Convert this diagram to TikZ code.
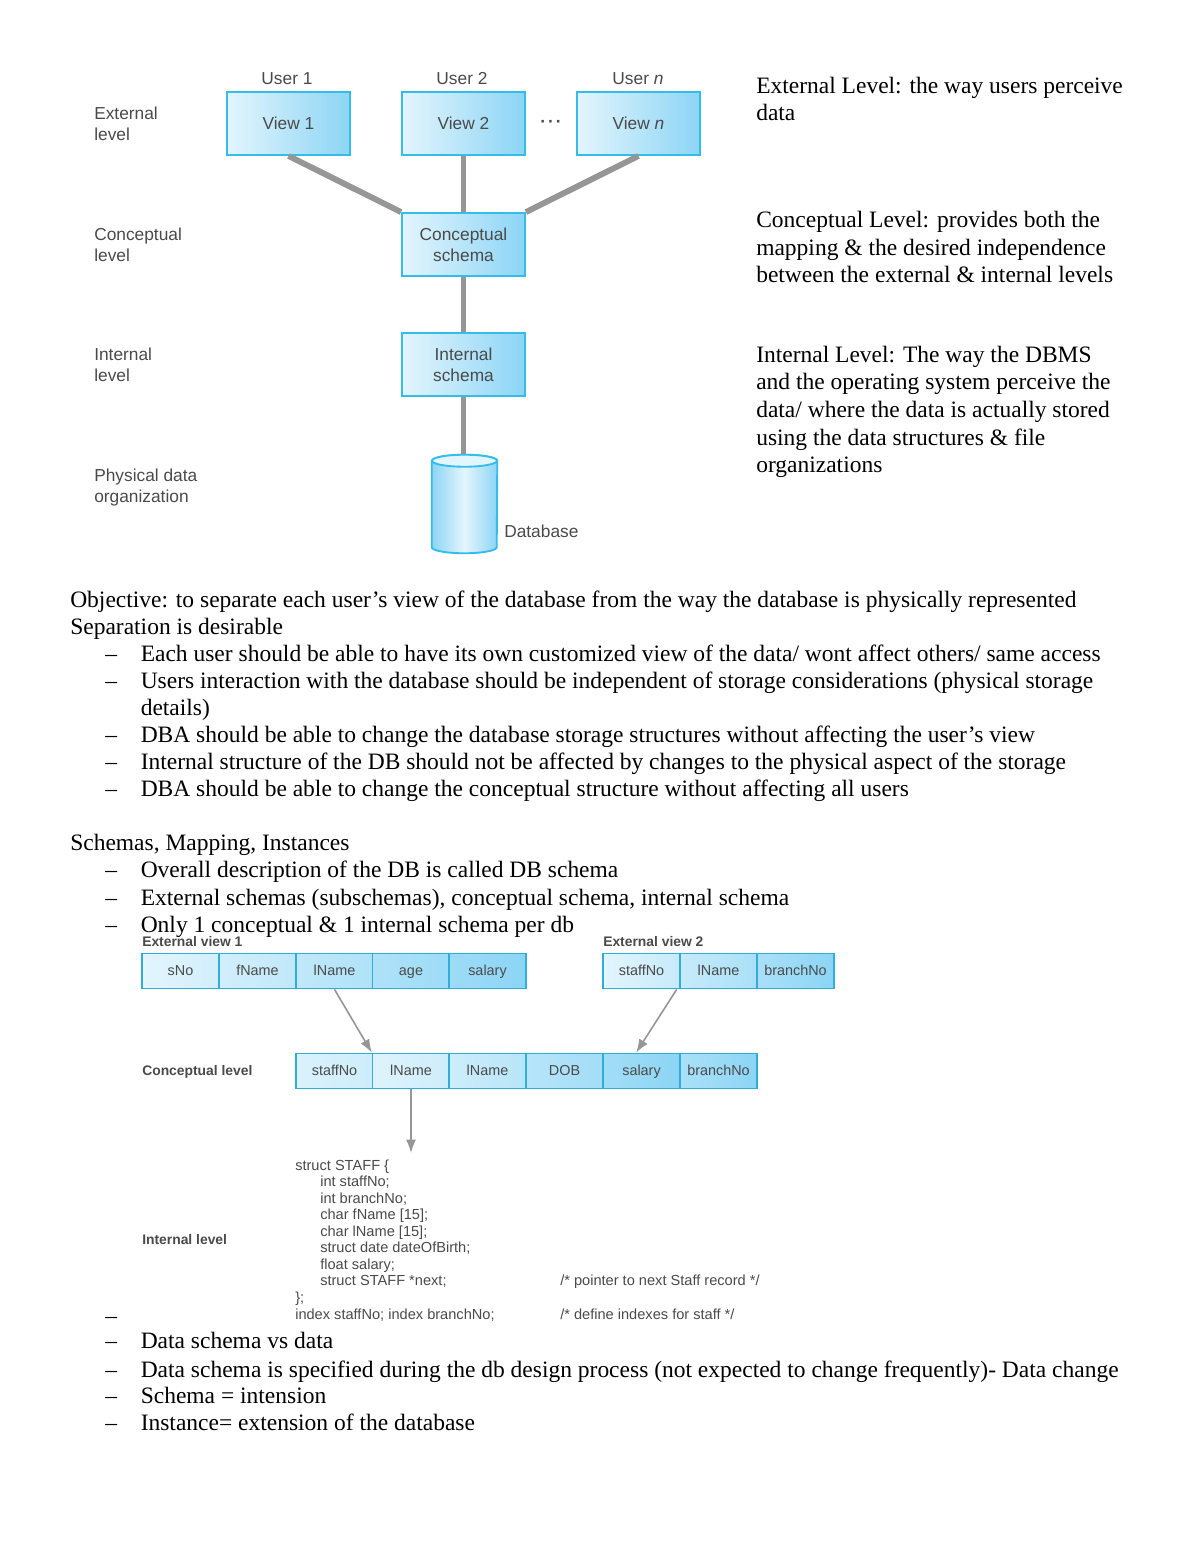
\documentclass[tikz,border=0pt]{standalone}
\usepackage{fontspec}
\setmainfont{Liberation Serif}
\newfontfamily\diagfont{Liberation Sans}
\usetikzlibrary{arrows.meta,calc}
\definecolor{edgeblue}{HTML}{35BDE9}
\definecolor{celledge}{HTML}{2FAEDB}
\definecolor{shadeL}{HTML}{E3F5FD}
\definecolor{shadeR}{HTML}{8CD5F5}
\definecolor{linkgray}{HTML}{969696}
\definecolor{labelgray}{HTML}{4A4A4A}
\tikzset{
  bodytext/.style={anchor=base west,inner sep=0pt,font=\fontsize{17.62}{20}\selectfont,text=black},
  lab/.style={anchor=base west,inner sep=0pt,font=\diagfont\fontsize{13}{15}\selectfont,text=labelgray},
  boxtext/.style={inner sep=0pt,align=center,font=\diagfont\fontsize{13}{15.5}\selectfont,text=labelgray},
  codetext/.style={anchor=base west,inner sep=0pt,font=\diagfont\fontsize{10.95}{12}\selectfont,text=labelgray},
  tabtitle/.style={anchor=base west,inner sep=0pt,font=\diagfont\bfseries\fontsize{10.4}{12}\selectfont,text=labelgray},
  schemabox/.style={rectangle,draw=edgeblue,line width=1.4pt,left color=shadeL,right color=shadeR,
    minimum width=92.25pt,minimum height=47.25pt,boxtext},
  heavy/.style={draw=linkgray,line width=4.4pt},
  thin arrow/.style={draw=linkgray,line width=1.2pt,-{Latex[length=10pt,width=7.5pt]}},
  cellbox/.style={rectangle,draw=celledge,line width=1.1pt,inner sep=0pt,font=\diagfont\fontsize{10.8}{12}\selectfont,text=labelgray,
    minimum width=57.7pt,text height=8pt,text depth=2pt},
  cellA/.style={cellbox,minimum height=26.5pt},
}
\newcommand\tl[4]{\node[bodytext] (#1) at (#2,#3) {#4};}
\newcommand\dashline[2]{\node[bodytext] (#1) at (105,#2) {--};}
\newcommand\tcell[7]{\node[cellA,left color=shadeR!#5!shadeL,right color=shadeR!#6!shadeL] (#1) at (#2,#3) {#4};}
\begin{document}
\begin{tikzpicture}[x=0.75pt,y=-0.75pt]
\useasboundingbox (0,0) rectangle (1200,1553);
% top diagram
\node[schemabox] (v1) at (288.5,123.5) {View 1};
\node[schemabox] (v2) at (463.5,123.5) {View 2};
\node[schemabox] (vn) at (638.5,123.5) {View \textit{n}};
\node[schemabox] (cs) at (463.5,244.5) {Conceptual\\schema};
\node[schemabox] (is) at (463.5,364.5) {Internal\\schema};
\node[boxtext] (u1) at (287,79) {User 1};
\node[boxtext] (u2) at (462,79) {User 2};
\node[boxtext] (un) at (638,79) {User \textit{n}};
\node[boxtext] (dots) at (551,124) {\textbf{·\kern1.5pt·\kern1.5pt·}};
\node[lab] (l1a) at (94,119) {External};
\node[lab] (l1b) at (94,140) {level};
\node[lab] (l2a) at (94,240) {Conceptual};
\node[lab] (l2b) at (94,261) {level};
\node[lab] (l3a) at (94,360) {Internal};
\node[lab] (l3b) at (94,381) {level};
\node[lab] (l4a) at (94,481) {Physical data};
\node[lab] (l4b) at (94,502) {organization};
\node[lab] (dbl) at (504,537) {Database};
\node[minimum width=48.75pt,minimum height=73.5pt,inner sep=0pt] (db) at (464.5,504) {};
\draw[heavy] (v1.south) -- (cs.north west);
\draw[heavy] (v2.south) -- (cs.north);
\draw[heavy] (vn.south) -- (cs.north east);
\draw[heavy] (cs.south) -- (is.north);
\draw[heavy] (is.south) -- (is.south |- db.north);
\path[draw=edgeblue,line width=1.4pt,left color=shadeR,right color=shadeR,middle color=shadeL]
  ([yshift=-4.5pt]db.north west) -- ([yshift=4.5pt]db.south west)
  arc[start angle=180,end angle=360,x radius=24.375pt,y radius=4.5pt]
  -- ([yshift=-4.5pt]db.north east)
  arc[start angle=0,end angle=180,x radius=24.375pt,y radius=4.5pt] -- cycle;
\draw[draw=edgeblue,line width=1.4pt,fill=shadeL] ([yshift=-4.5pt]db.north) ellipse[x radius=24.375pt,y radius=4.5pt];
% right text
\tl{r1}{756}{93}{External Level: the way users perceive}
\tl{r2}{756}{120}{data}
\tl{r3}{756}{227}{Conceptual Level: provides both the}
\tl{r4}{756}{255}{mapping \& the desired independence}
\tl{r5}{756}{282}{between the external \& internal levels}
\tl{r6}{756}{362}{Internal Level: The way the DBMS}
\tl{r7}{756}{389}{and the operating system perceive the}
\tl{r8}{756}{417}{data/ where the data is actually stored}
\tl{r9}{756}{445}{using the data structures \& file}
\tl{r10}{756}{472}{organizations}
% body
\tl{b1}{70}{607}{Objective: to separate each user’s view of the database from the way the database is physically represented}
\tl{b2}{70}{634}{Separation is desirable}
\dashline{d1}{661}\tl{b3}{140.5}{661}{Each user should be able to have its own customized view of the data/ wont affect others/ same access}
\dashline{d2}{688}\tl{b4}{140.5}{688}{Users interaction with the database should be independent of storage considerations (physical storage}
\tl{b5}{140.5}{715}{details)}
\dashline{d3}{742}\tl{b6}{140.5}{742}{DBA should be able to change the database storage structures without affecting the user’s view}
\dashline{d4}{769}\tl{b7}{140.5}{769}{Internal structure of the DB should not be affected by changes to the physical aspect of the storage}
\dashline{d5}{796}\tl{b8}{140.5}{796}{DBA should be able to change the conceptual structure without affecting all users}
\tl{b9}{70}{850}{Schemas, Mapping, Instances}
\dashline{d6}{877}\tl{b10}{140.5}{877}{Overall description of the DB is called DB schema}
\dashline{d7}{905}\tl{b11}{140.5}{905}{External schemas (subschemas), conceptual schema, internal schema}
\dashline{d8}{932}\tl{b12}{140.5}{932}{Only 1 conceptual \& 1 internal schema per db}
\dashline{d9}{1323}
\dashline{d10}{1348}\tl{b13}{140.5}{1348}{Data schema vs data}
\dashline{d11}{1377}\tl{b14}{140.5}{1377}{Data schema is specified during the db design process (not expected to change frequently)- Data change}
\dashline{d12}{1403}\tl{b15}{140.5}{1403}{Schema = intension}
\dashline{d13}{1430}\tl{b16}{140.5}{1430}{Instance= extension of the database}
% tables
\node[tabtitle] (t1) at (142,946) {External view 1};
\node[tabtitle] (t2) at (603,946) {External view 2};
\node[tabtitle] (t3) at (142,1075) {Conceptual level};
\node[tabtitle] (t4) at (142,1244) {Internal level};
\tcell{a1}{180.5}{971}{sNo}{0}{20}{}
\tcell{a2}{257.5}{971}{fName}{20}{40}{}
\tcell{a3}{334.5}{971}{lName}{40}{60}{}
\tcell{a4}{411}{971}{age}{60}{80}{}
\tcell{a5}{487.5}{971}{salary}{80}{100}{}
\tcell{e1}{641.5}{971}{staffNo}{0}{33}{}
\tcell{e2}{718.5}{971}{lName}{33}{66}{}
\tcell{e3}{795.5}{971}{branchNo}{66}{100}{}
\tcell{c1}{334.5}{1071}{staffNo}{10}{25}{}
\tcell{c2}{411}{1071}{lName}{5}{25}{}
\tcell{c3}{487.5}{1071}{lName}{25}{50}{}
\tcell{c4}{564.5}{1071}{DOB}{50}{75}{}
\tcell{c5}{641.5}{1071}{salary}{75}{100}{}
\tcell{c6}{718.5}{1071}{branchNo}{65}{100}{}
\coordinate (arrowend) at (411,1153);
\draw[thin arrow] (a3.south) -- (c2.north west);
\draw[thin arrow] ([xshift=-3pt]e1.south east) -- ([xshift=-4pt]c5.north);
\draw[thin arrow] (c2.south) -- (arrowend);
% code
\node[codetext] (k1) at (295,1170) {struct STAFF \{};
\node[codetext] (k2) at (320,1186) {int staffNo;};
\node[codetext] (k3) at (320,1203) {int branchNo;};
\node[codetext] (k4) at (320,1219) {char fName [15];};
\node[codetext] (k5) at (320,1236) {char lName [15];};
\node[codetext] (k6) at (320,1252) {struct date dateOfBirth;};
\node[codetext] (k7) at (320,1269) {float salary;};
\node[codetext] (k8) at (320,1285) {struct STAFF *next;};
\node[codetext] (k9) at (295,1302) {\};};
\node[codetext] (k10) at (295,1319) {index staffNo; index branchNo;};
\node[codetext] (k11) at (560,1285) {/* pointer to next Staff record */};
\node[codetext] (k12) at (560,1319) {/* define indexes for staff */};
\end{tikzpicture}
\end{document}
